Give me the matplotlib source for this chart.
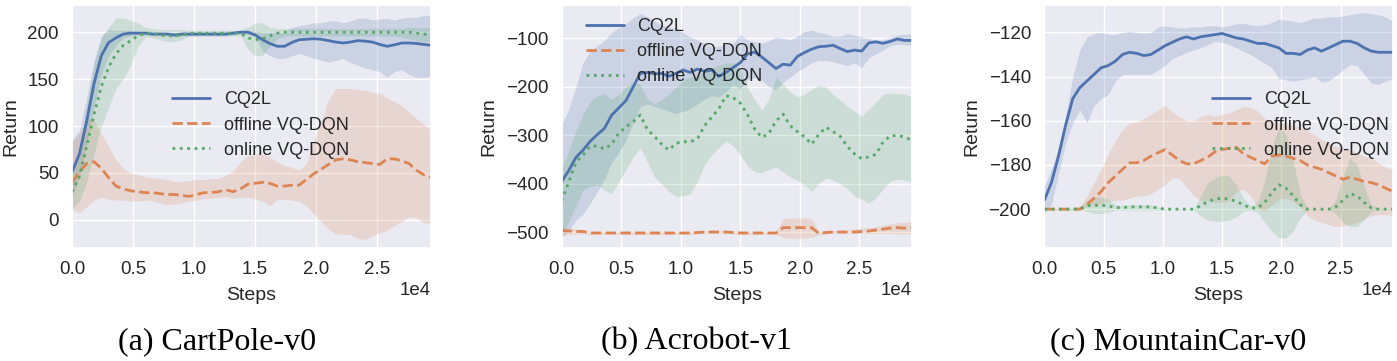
import numpy as np
import matplotlib
matplotlib.use("Agg")
import matplotlib.pyplot as plt
import seaborn as sns

# ---------------- data ----------------
steps = np.arange(0, 29401, 600)

series_labels = ["CQ2L", "offline VQ-DQN", "online VQ-DQN"]
captions = ["(a) CartPole-v0", "(b) Acrobot-v1", "(c) MountainCar-v0"]

# CartPole-v0
cp_cq2l = [51, 70, 105, 145, 175, 189, 194, 198, 199, 199,
           199, 198, 198, 198, 197, 198, 198, 198, 198, 198,
           198, 198, 199, 200, 200, 197, 192, 188, 185, 185,
           189, 192, 192.5, 193, 192.5, 191, 189.5, 188.5, 189.5, 191,
           190.5, 189.5, 187, 185, 186.5, 188.5, 188.5, 188, 187, 186]
cp_cq2l_lo = [25, 45, 80, 120, 155, 175, 186, 194, 196, 197,
              197, 196, 196, 196, 195, 196, 196, 196, 196, 196,
              196, 196, 197, 198, 198, 196, 180, 175, 172, 172,
              175, 177, 175, 172, 170, 168, 170, 172, 168, 165,
              162, 160, 158, 152, 158, 160, 155, 152, 152, 153]
cp_cq2l_hi = [85, 95, 130, 170, 195, 203, 202, 202, 202, 201,
              201, 200, 200, 200, 199, 200, 200, 200, 200, 200,
              200, 200, 201, 202, 202, 201, 200, 200, 200, 200,
              205, 207, 208, 210, 210, 212, 212, 210, 212, 215,
              215, 213, 214, 215, 213, 215, 216, 216, 218, 218]
cp_offline = [40, 51, 60, 62, 55, 45, 36, 33, 31, 30,
              29, 29, 28, 27, 27, 26, 25, 27, 29, 29,
              30, 32, 30, 33, 38, 39, 40, 39, 36, 36,
              37, 37, 43, 49, 54, 59, 64, 65, 64, 62,
              61, 60, 59, 65, 65, 63, 60, 53, 48, 45]
cp_offline_lo = [11, 7, 14, 21, 24, 22, 21, 21, 20, 20,
                 21, 20, 18, 16, 17, 18, 20, 21, 23, 23,
                 24, 25, 23, 24, 24, 22, 20, 15, 22, 22,
                 21, 20, 15, 6, -2, -10, -15, -15, -16, -20,
                 -21, -17, -14, -11, -6, -2, 3, 2, -3, -4]
cp_offline_hi = [82, 92, 108, 106, 92, 78, 64, 55, 50, 48,
                 46, 45, 44, 43, 41, 41, 42, 43, 43, 44,
                 44, 48, 52, 62, 68, 70, 70, 67, 62, 58,
                 56, 53, 60, 85, 105, 128, 140, 140, 140, 139,
                 138, 136, 135, 130, 126, 122, 115, 108, 102, 97]
cp_online = [30, 46, 78, 112, 142, 163, 177, 186, 191, 196,
             199, 199, 197, 196, 196, 197, 199, 199, 199, 199,
             199, 199, 199, 199, 194, 192, 193, 196, 199, 200,
             200, 200, 200, 200, 200, 200, 200, 200, 200, 200,
             200, 200, 200, 200, 200, 200, 200, 199, 198, 197]
cp_online_lo = [12, 20, 40, 70, 100, 120, 140, 150, 165, 185,
                195, 194, 192, 190, 190, 192, 196, 196, 196, 196,
                196, 196, 196, 196, 182, 175, 175, 185, 193, 196,
                196, 196, 196, 196, 196, 196, 196, 196, 196, 196,
                196, 196, 196, 196, 196, 195, 193, 191, 190, 190]
cp_online_hi = [48, 75, 120, 165, 195, 205, 215, 215, 213, 210,
                205, 204, 203, 203, 203, 203, 202, 202, 202, 202,
                202, 202, 202, 202, 205, 210, 210, 205, 204, 204,
                204, 204, 204, 204, 204, 204, 204, 204, 204, 204,
                204, 204, 204, 204, 204, 204, 205, 205, 205, 205]

# Acrobot-v1
ac_cq2l = [-395, -372, -345, -330, -312, -298, -285, -258, -243, -228,
           -200, -172, -170, -173, -172, -178, -172, -165, -170, -163,
           -168, -165, -178, -170, -160, -150, -132, -128, -138, -150,
           -162, -153, -155, -137, -129, -122, -117, -116, -114, -121,
           -127, -124, -126, -109, -107, -110, -106, -101, -104, -104]
ac_cq2l_lo = [-510, -495, -475, -462, -440, -415, -390, -355, -335, -310,
              -275, -240, -235, -240, -245, -250, -255, -250, -245, -235,
              -225, -218, -220, -210, -195, -205, -185, -180, -186, -200,
              -205, -190, -180, -168, -160, -150, -145, -146, -148, -152,
              -156, -150, -160, -140, -132, -124, -115, -112, -113, -114]
ac_cq2l_hi = [-278, -245, -200, -150, -126, -115, -104, -88, -78, -70,
              -57, -49, -55, -64, -72, -76, -79, -88, -97, -103,
              -110, -117, -116, -112, -110, -92, -103, -107, -110, -105,
              -97, -100, -103, -95, -86, -83, -88, -90, -96, -95,
              -90, -93, -97, -100, -103, -103, -98, -93, -91, -90]
ac_offline = [-496, -497, -498, -498, -501, -501, -501, -501, -501, -501,
              -501, -501, -501, -501, -501, -501, -501, -501, -501, -500,
              -499, -499, -499, -499, -500, -501, -501, -501, -501, -501,
              -501, -490, -490, -490, -490, -490, -502, -500, -499, -499,
              -499, -499, -498, -497, -495, -493, -491, -490, -491, -490]
ac_offline_lo = [-506, -504, -503, -503, -504, -504, -504, -504, -504, -504,
                 -504, -504, -504, -504, -504, -504, -504, -504, -504, -503,
                 -502, -502, -502, -502, -503, -504, -504, -504, -504, -504,
                 -504, -510, -512, -512, -512, -510, -505, -503, -502, -502,
                 -502, -502, -502, -502, -502, -502, -502, -503, -504, -503]
ac_offline_hi = [-488, -490, -493, -494, -498, -498, -498, -498, -498, -498,
                 -498, -498, -498, -498, -498, -498, -498, -498, -498, -497,
                 -496, -496, -496, -496, -497, -498, -498, -498, -498, -498,
                 -498, -472, -470, -470, -470, -472, -499, -497, -496, -496,
                 -495, -493, -491, -490, -488, -485, -482, -480, -479, -478]
ac_online = [-435, -395, -355, -340, -322, -322, -328, -318, -295, -282,
             -272, -258, -288, -302, -318, -330, -316, -313, -313, -307,
             -280, -262, -245, -218, -222, -233, -257, -286, -304, -296,
             -270, -256, -280, -292, -303, -318, -298, -283, -292, -302,
             -323, -338, -348, -344, -339, -313, -301, -300, -303, -310]
ac_online_lo = [-502, -478, -445, -412, -405, -402, -413, -420, -395, -370,
                -345, -325, -355, -385, -400, -415, -425, -425, -420, -395,
                -360, -340, -325, -312, -320, -340, -363, -375, -377, -370,
                -365, -375, -386, -392, -403, -415, -398, -388, -392, -400,
                -410, -425, -432, -440, -428, -410, -395, -390, -392, -395]
ac_online_hi = [-370, -330, -290, -255, -230, -218, -215, -225, -215, -200,
                -190, -195, -225, -235, -225, -215, -200, -185, -180, -178,
                -165, -160, -155, -150, -150, -165, -200, -225, -248, -225,
                -180, -195, -210, -220, -215, -205, -196, -200, -215, -227,
                -240, -250, -260, -245, -232, -215, -213, -213, -215, -220]

# MountainCar-v0
mc_cq2l = [-196, -188, -176, -162, -150, -145, -142, -139, -136, -135,
           -133, -130, -129, -129.5, -130.5, -130, -128, -126, -124.5, -123,
           -122, -123, -122, -121.5, -121, -120.5, -121.5, -122.5, -123, -124,
           -125, -125, -126, -127, -129.5, -129.5, -130, -128, -127, -128.5,
           -127, -125.5, -124, -124, -125, -127, -128.5, -129, -129, -129]
mc_cq2l_lo = [-202, -198, -184, -170, -161, -155, -161, -153, -150, -148,
              -142, -139, -139, -139, -139, -139, -137, -135, -132, -130.5,
              -129, -128, -127, -125.5, -124, -124.5, -125.5, -127, -128.5, -130,
              -132, -134, -136, -141, -141.5, -142, -141.5, -141, -140, -142.5,
              -142, -139.5, -137, -134.5, -135, -139, -143, -143.5, -142, -141]
mc_cq2l_hi = [-190, -182, -172, -158, -140, -128, -122, -120.5, -120, -121,
              -121, -120, -119.5, -120, -120.5, -120, -117.5, -117, -117.5, -118,
              -118, -117.5, -117.5, -117, -117, -117.5, -117, -116, -116, -116.5,
              -117, -116.5, -115.5, -114, -114.5, -115, -115.5, -114.5, -113.5, -113.5,
              -113, -113, -112.5, -112, -111.5, -111, -111.5, -112, -113, -115]
mc_offline = [-200, -200, -200, -200, -200, -200, -198, -195, -192, -188,
              -185, -182, -179, -179, -178, -176, -174.5, -173, -175.5, -178,
              -179.5, -179.5, -178, -176.5, -174, -173, -172.5, -172, -175, -176.5,
              -178, -179.5, -176, -175.5, -176, -177, -178, -180, -181, -182,
              -183.5, -185, -186.5, -185.5, -186.5, -187.5, -188, -189, -190.5, -192]
mc_offline_lo = [-200.5, -200.5, -200.5, -200.5, -200.5, -200.5, -199, -198, -197.5, -196.5,
                 -196, -196, -195, -194, -194, -193, -191, -189, -186, -186,
                 -190, -194, -196, -196, -197, -197, -196, -192, -191, -194,
                 -199.5, -201, -198, -195.5, -195, -196.5, -199, -203, -205, -206,
                 -207, -208, -207.5, -207, -206, -204.5, -203, -202.5, -202.5, -203]
mc_offline_hi = [-199.5, -199.5, -199.5, -199.5, -199.5, -198.5, -194, -188, -182, -175,
                 -169, -164, -161, -160.5, -159, -157, -155, -153, -156, -158,
                 -160, -160, -158, -157, -158, -157, -156.5, -155, -153.5, -154,
                 -155.5, -159, -160.5, -161, -161.5, -162, -163, -164.5, -166.5, -168.5,
                 -170, -171.5, -172.5, -173, -174.5, -176, -177, -179, -181, -182]
mc_online = [-200, -200, -200, -200, -200, -200, -198.5, -198.3, -198.3, -198.5,
             -199.3, -199.3, -199, -199, -199, -199, -199.5, -200, -200, -200,
             -200, -200, -198.5, -196.5, -195.5, -195, -195.5, -196.5, -198, -199.5,
             -199.5, -197, -192.5, -189, -190.5, -194, -198, -200, -200, -200,
             -200, -199, -196, -193, -194, -197, -199.5, -200, -200, -200]
mc_online_lo = [-200.3, -200.3, -200.3, -200.3, -200.3, -200.3, -201, -202, -202, -201.5,
                -200.5, -200.5, -200.5, -200.5, -200.5, -200.5, -200.5, -200.3, -200.3, -200.3,
                -200.3, -200.3, -203, -205, -205.5, -205.5, -205, -203.5, -201, -200.5,
                -201.5, -206, -210, -213, -213, -210, -204, -200.3, -200.3, -200.3,
                -200.3, -202, -206, -208, -208, -205, -201, -200.3, -200.3, -200.3]
mc_online_hi = [-199.7, -199.7, -199.7, -199.7, -199.7, -199.7, -196, -194.5, -194.5, -195.5,
                -198, -198.5, -198, -198, -198, -198, -199, -199.7, -199.7, -199.7,
                -199.7, -199.7, -194, -188, -186, -184.5, -185, -189, -195, -198.5,
                -197, -187, -172, -163, -166, -178, -193, -199.7, -199.7, -199.7,
                -199.7, -196, -185, -177, -180, -190, -198, -199.7, -199.7, -199.7]

cp_yticks = [0, 50, 100, 150, 200]
ac_yticks = [-500, -400, -300, -200, -100]
mc_yticks = [-200, -180, -160, -140, -120]
xticks = [0, 5000, 10000, 15000, 20000, 25000]

# ---------------- style ----------------
sns.set_theme(style="darkgrid")
plt.rcParams["font.family"] = ["Liberation Sans", "DejaVu Sans"]
colors = sns.color_palette("deep")
c_blue, c_orange, c_green = colors[0], colors[1], colors[2]

fig = plt.figure(figsize=(13.97, 3.61), dpi=100)

W, H = 1397.0, 361.0
top_px, bot_px = 5.0, 248.0
axes_px = [(72.0, 431.0), (561.7, 911.7), (1044.3, 1392.7)]
axs = []
for l, r in axes_px:
    axs.append(fig.add_axes([l / W, 1 - bot_px / H, (r - l) / W, (bot_px - top_px) / H]))

panels = [
    (cp_cq2l, cp_cq2l_lo, cp_cq2l_hi, cp_offline, cp_offline_lo, cp_offline_hi,
     cp_online, cp_online_lo, cp_online_hi, cp_yticks, (-30, 229), (0.234, 0.506)),
    (ac_cq2l, ac_cq2l_lo, ac_cq2l_hi, ac_offline, ac_offline_lo, ac_offline_hi,
     ac_online, ac_online_lo, ac_online_hi, ac_yticks, (-532, -31), (0.023, 0.808)),
    (mc_cq2l, mc_cq2l_lo, mc_cq2l_hi, mc_offline, mc_offline_lo, mc_offline_hi,
     mc_online, mc_online_lo, mc_online_hi, mc_yticks, (-217.6, -107.6), (0.436, 0.506)),
]

lw = 2.0
for ax, p in zip(axs, panels):
    (m1, l1, h1, m2, l2, h2, m3, l3, h3, yt, ylim, leg_anchor) = p
    ax.fill_between(steps, l1, h1, color=c_blue, alpha=0.2, linewidth=0)
    ax.fill_between(steps, l2, h2, color=c_orange, alpha=0.2, linewidth=0)
    ax.fill_between(steps, l3, h3, color=c_green, alpha=0.2, linewidth=0)
    ax.plot(steps, m1, color=c_blue, lw=lw, ls="-", label=series_labels[0])
    ax.plot(steps, m2, color=c_orange, lw=lw, ls="--", label=series_labels[1])
    ax.plot(steps, m3, color=c_green, lw=lw, ls=":", label=series_labels[2])
    ax.set_xlim(0, 29400)
    ax.set_ylim(*ylim)
    ax.set_yticks(yt)
    ax.set_xticks(xticks)
    ax.ticklabel_format(axis="x", style="sci", scilimits=(0, 0))
    ax.tick_params(labelsize=13.5, colors="#262626")
    ax.xaxis.get_offset_text().set_fontsize(13.5)
    ax.set_xlabel("Steps", fontsize=14, color="#262626", labelpad=6)
    ax.set_ylabel("Return", fontsize=14, color="#262626", labelpad=6)
    ax.legend(loc="center left", bbox_to_anchor=leg_anchor, frameon=False,
              fontsize=13, labelspacing=0.45, handlelength=2.1, handletextpad=0.75)

cap_x = [217, 696, 1178]
for cx, cap in zip(cap_x, captions):
    fig.text(cx / W, 1 - 342 / H, cap, ha="center", va="center",
             fontsize=23, family=["Liberation Serif", "DejaVu Serif"], color="black")

fig.savefig("out.png", dpi=100)
